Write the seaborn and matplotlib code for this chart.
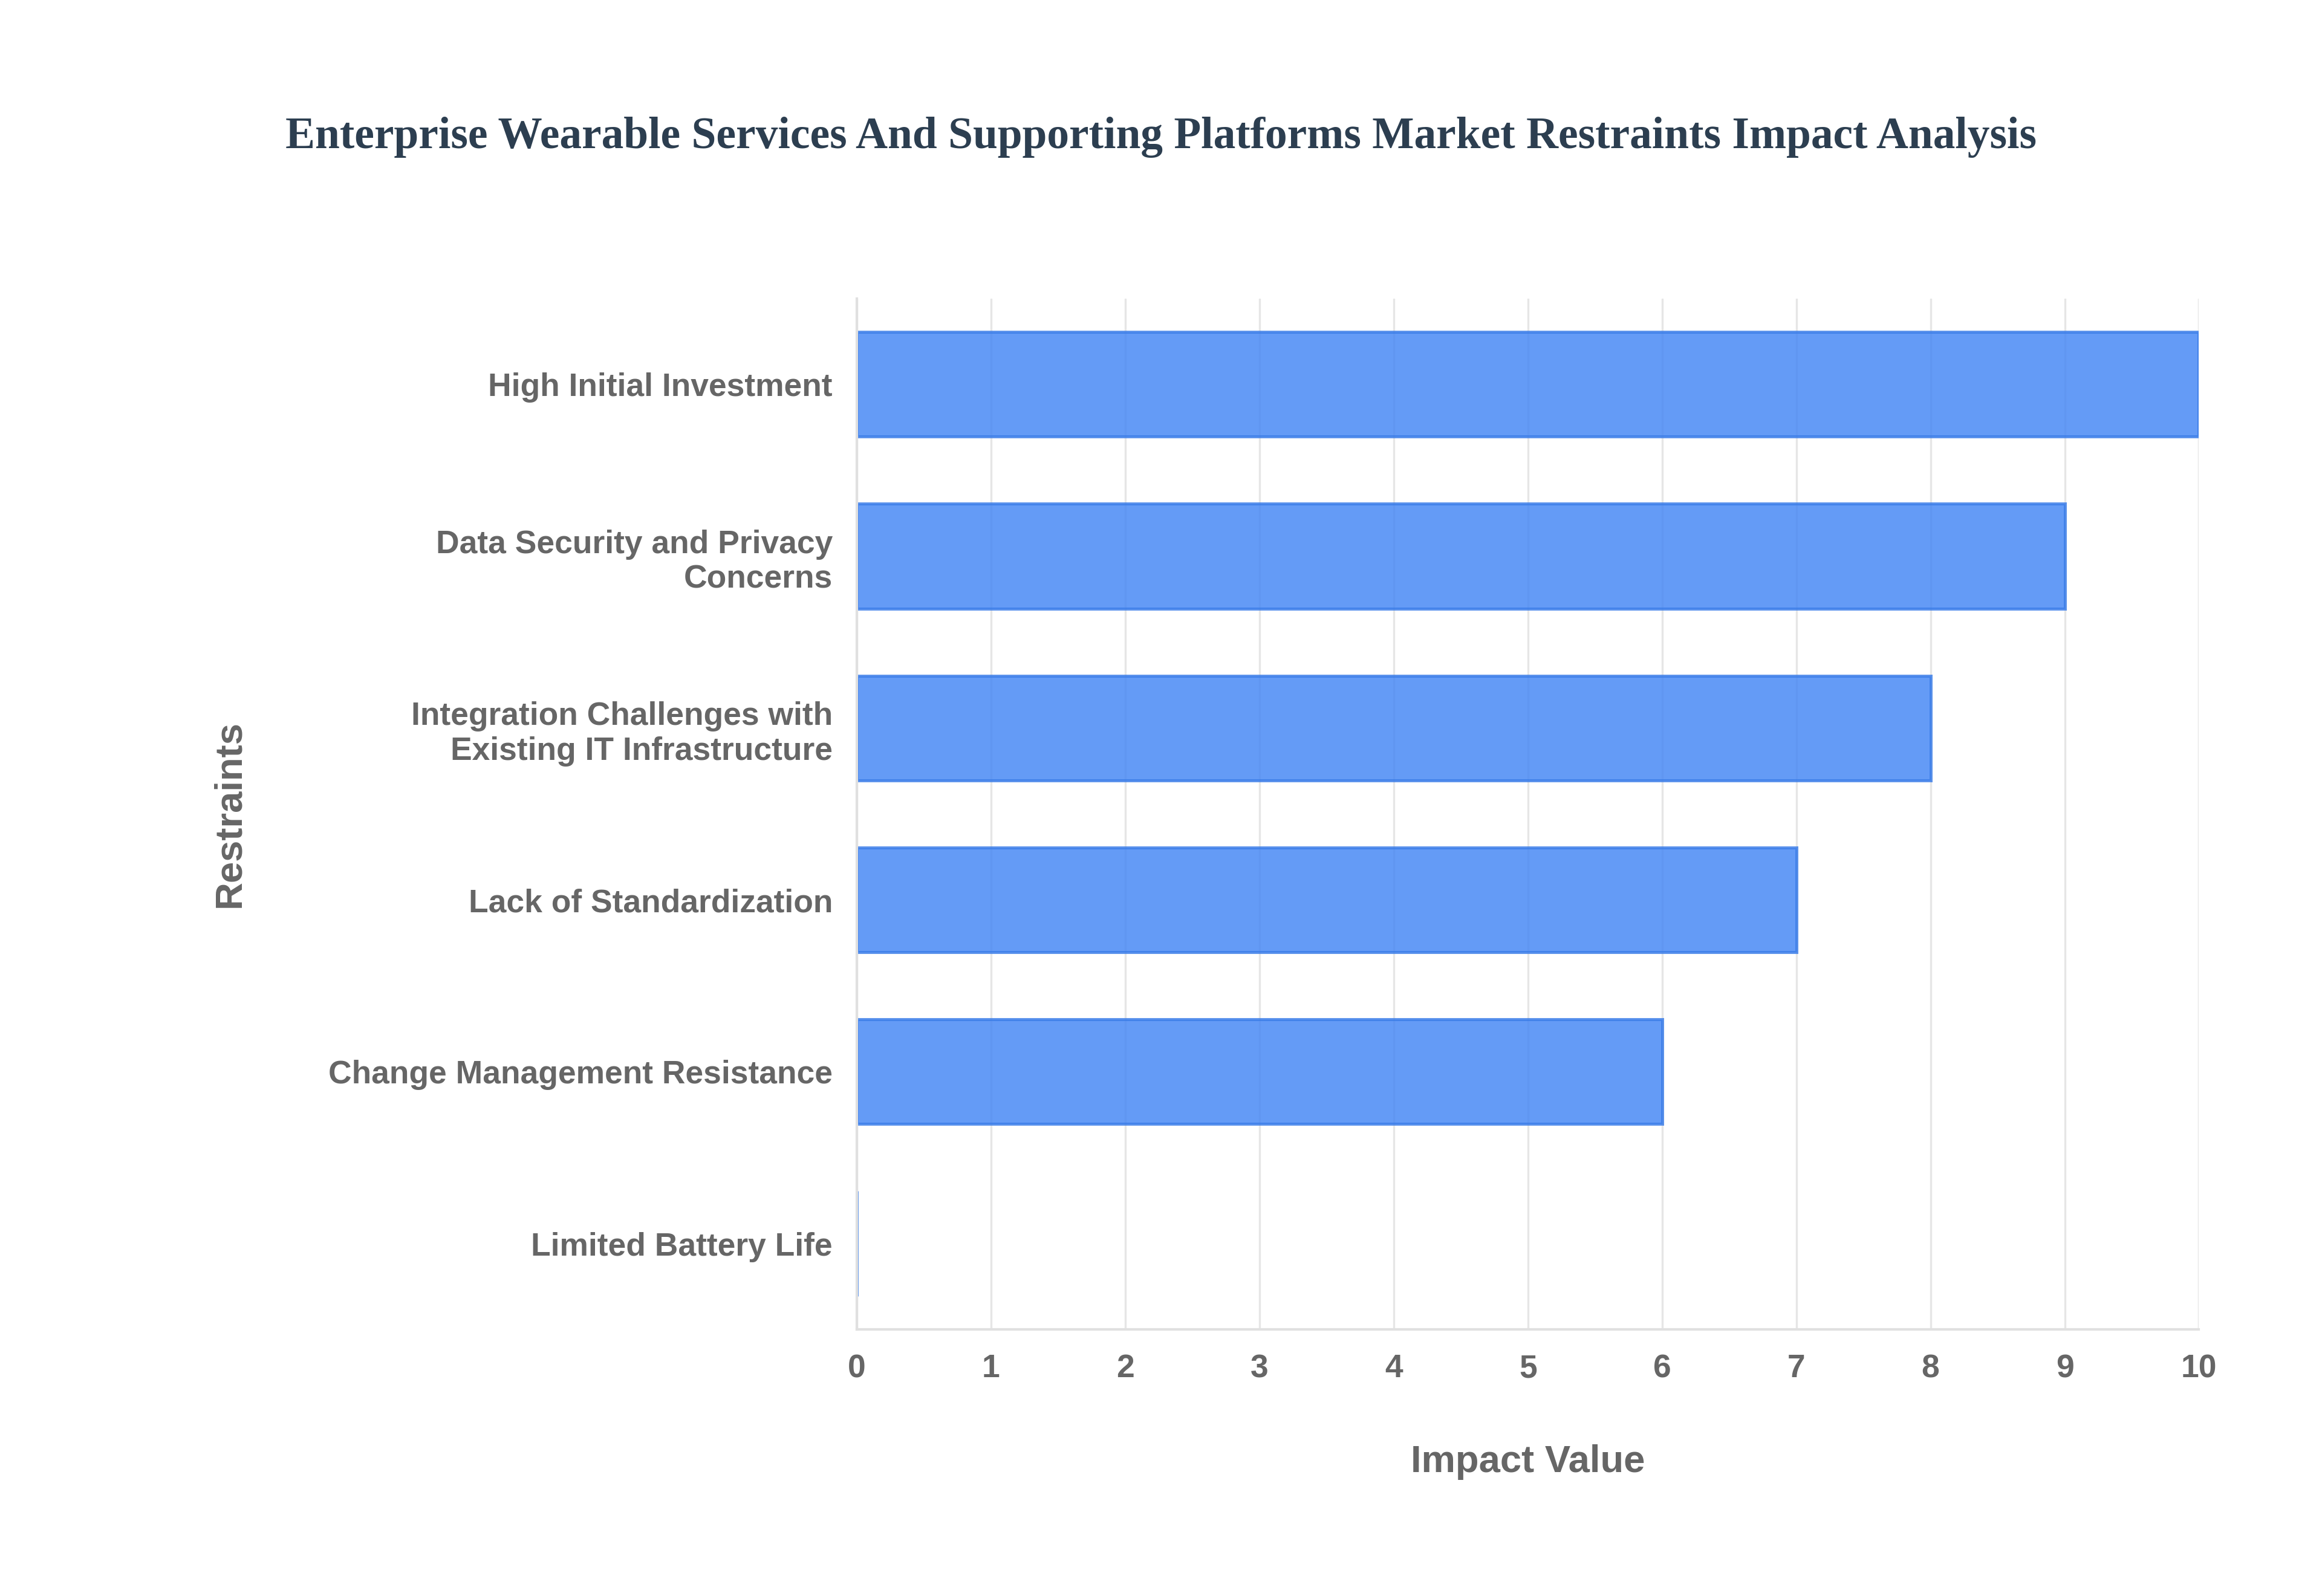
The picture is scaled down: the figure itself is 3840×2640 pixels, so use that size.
import matplotlib
matplotlib.use("Agg")
import matplotlib.pyplot as plt
import seaborn as sns
import pandas as pd

categories = ["High Initial Investment", "Data Security and Privacy\nConcerns",
              "Integration Challenges with\nExisting IT Infrastructure",
              "Lack of Standardization", "Change Management Resistance",
              "Limited Battery Life"]
values = [10, 9, 8, 7, 6, 0]
ticks = list(range(0, 11))

sns.set_theme(style="whitegrid")
plt.rcParams['font.family'] = ['Liberation Sans Narrow', 'Liberation Sans', 'DejaVu Sans']

df = pd.DataFrame({"Restraint": categories, "Impact": values})
fig = plt.figure(figsize=(16, 11), dpi=240)
ax = fig.add_axes([0.369, 0.167, 0.578, 0.646])
sns.barplot(data=df, x="Impact", y="Restraint", ax=ax, color="#4285f4", alpha=0.82,
            width=0.61, edgecolor="#3b7de8", linewidth=1.5, saturation=1)
ax.set_xlim(0, 10)
ax.set_xticks(ticks)
ax.grid(axis="x", color="#e6e6e6", linewidth=1)
ax.grid(axis="y", visible=False)
for s in ["top", "right"]:
    ax.spines[s].set_visible(False)
for s in ["left", "bottom"]:
    ax.spines[s].set_color("#e0e0e0")
ax.tick_params(axis="both", colors="#666666", labelsize=16, length=0)
ax.tick_params(axis="x", pad=12)
ax.tick_params(axis="y", pad=12)
for t in ax.get_xticklabels() + ax.get_yticklabels():
    t.set_fontweight("bold")
ax.set_xlabel("Impact Value", fontsize=19, fontweight="bold", color="#666666", labelpad=30)
ax.set_ylabel("Restraints", fontsize=19, fontweight="bold", color="#666666", labelpad=40)
fig.text(0.5, 0.914, "Enterprise Wearable Services And Supporting Platforms Market Restraints Impact Analysis",
         ha="center", va="center", fontsize=22, fontweight="bold", color="#2c3e50",
         family=["Liberation Serif", "DejaVu Serif"])
fig.savefig("out.png", dpi=240)
